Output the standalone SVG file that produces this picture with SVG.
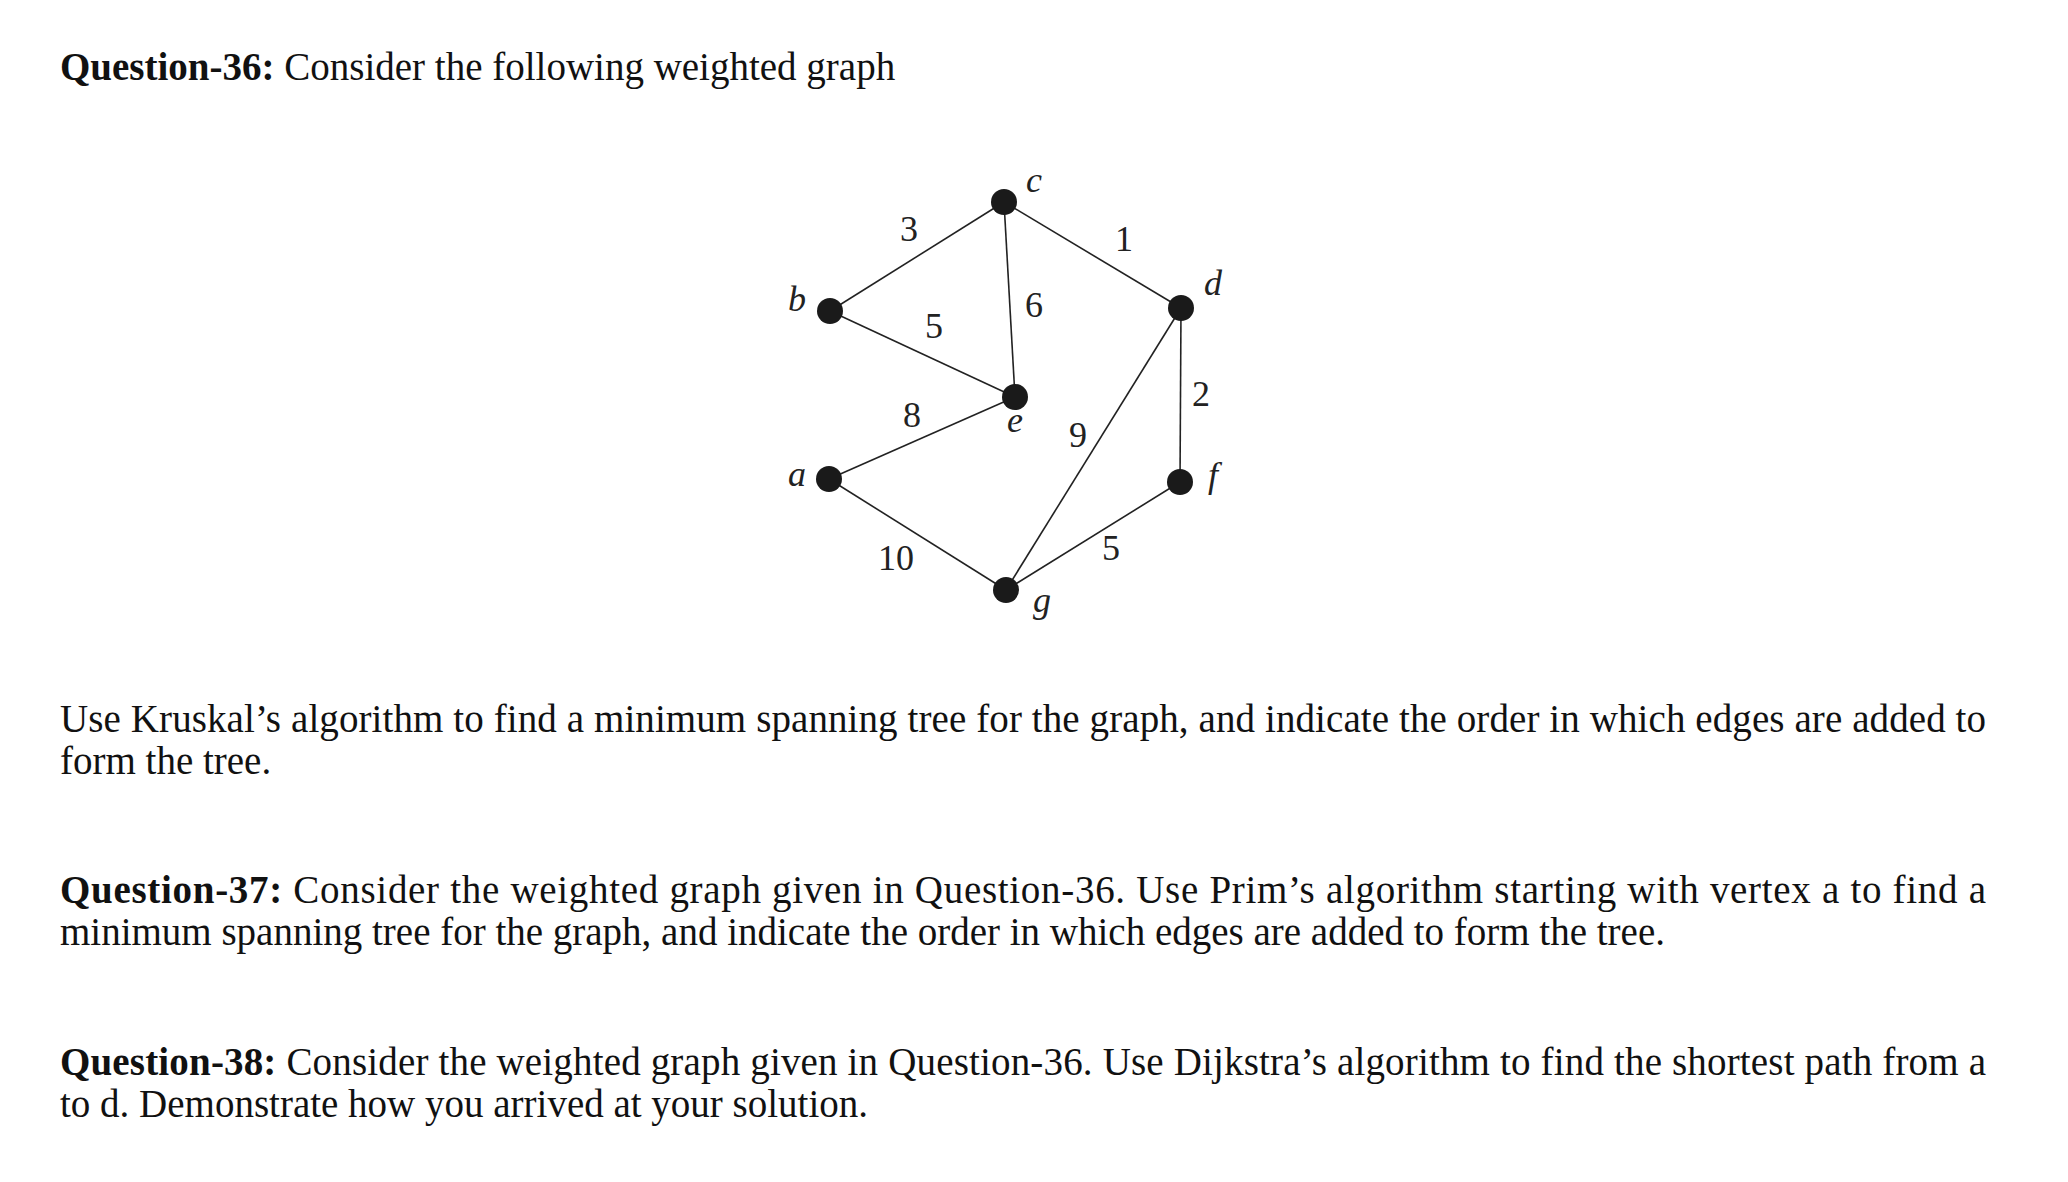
<svg xmlns="http://www.w3.org/2000/svg" width="2068" height="1182" viewBox="0 0 2068 1182">
<style>
.t{font-family:"Liberation Serif",serif;font-size:39px;fill:#111}
.b{font-weight:bold}
.n{fill:#1a1a1a}
.e{stroke:#222;stroke-width:1.6}
.w{font-family:"Liberation Serif",serif;font-size:36px;fill:#222;text-anchor:middle}
.l{font-family:"Liberation Serif",serif;font-size:36px;font-style:italic;fill:#222;text-anchor:middle}
</style>
<rect width="2068" height="1182" fill="#fff"/>
<text class="t" x="60" y="80"><tspan class="b">Question-36:</tspan> Consider the following weighted graph</text>
<g id="connectors">
<line class="e" x1="830" y1="311" x2="1004" y2="202"/>
<line class="e" x1="1004" y1="202" x2="1181" y2="308"/>
<line class="e" x1="1004" y1="202" x2="1015" y2="397"/>
<line class="e" x1="830" y1="311" x2="1015" y2="397"/>
<line class="e" x1="829" y1="479" x2="1015" y2="397"/>
<line class="e" x1="829" y1="479" x2="1006" y2="590"/>
<line class="e" x1="1181" y1="308" x2="1006" y2="590"/>
<line class="e" x1="1181" y1="308" x2="1180" y2="482"/>
<line class="e" x1="1180" y1="482" x2="1006" y2="590"/>
</g>
<g id="weights">
<text class="w" x="909" y="241">3</text>
<text class="w" x="1124" y="251">1</text>
<text class="w" x="1034" y="317">6</text>
<text class="w" x="934" y="338">5</text>
<text class="w" x="1201" y="406">2</text>
<text class="w" x="912" y="427">8</text>
<text class="w" x="1078" y="447">9</text>
<text class="w" x="896" y="570">10</text>
<text class="w" x="1111" y="560">5</text>
</g>
<g id="node-c"><circle class="n" cx="1004" cy="202" r="13"/><text class="l" x="1034" y="192">c</text></g>
<g id="node-b"><circle class="n" cx="830" cy="311" r="13"/><text class="l" x="797" y="311">b</text></g>
<g id="node-d"><circle class="n" cx="1181" cy="308" r="13"/><text class="l" x="1213" y="295">d</text></g>
<g id="node-e"><circle class="n" cx="1015" cy="397" r="13"/><text class="l" x="1015" y="432">e</text></g>
<g id="node-a"><circle class="n" cx="829" cy="479" r="13"/><text class="l" x="797" y="486">a</text></g>
<g id="node-f"><circle class="n" cx="1180" cy="482" r="13"/><text class="l" x="1213" y="487">f</text></g>
<g id="node-g"><circle class="n" cx="1006" cy="590" r="13"/><text class="l" x="1042" y="612">g</text></g>
<text class="t" x="60" y="732" textLength="1926" lengthAdjust="spacing">Use Kruskal’s algorithm to find a minimum spanning tree for the graph, and indicate the order in which edges are added to</text>
<text class="t" x="60" y="774">form the tree.</text>
<text class="t" x="60" y="903" textLength="1926" lengthAdjust="spacing"><tspan class="b">Question-37:</tspan> Consider the weighted graph given in Question-36.  Use Prim’s algorithm starting with vertex a to find a</text>
<text class="t" x="60" y="945">minimum spanning tree for the graph, and indicate the order in which edges are added to form the tree.</text>
<text class="t" x="60" y="1075" textLength="1926" lengthAdjust="spacing"><tspan class="b">Question-38:</tspan> Consider the weighted graph given in Question-36. Use Dijkstra’s algorithm to find the shortest path from a</text>
<text class="t" x="60" y="1117">to d.  Demonstrate how you arrived at your solution.</text>
</svg>
